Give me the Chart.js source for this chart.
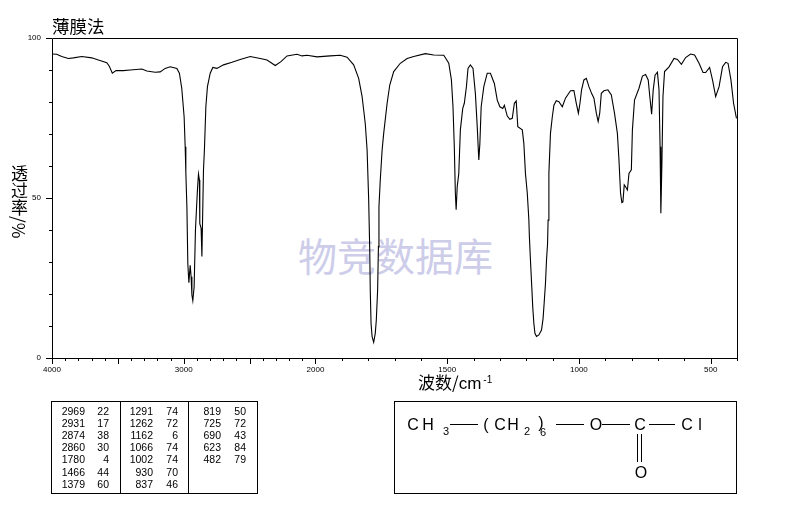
<!DOCTYPE html>
<html>
<head>
<meta charset="utf-8">
<script src="https://cdn.jsdelivr.net/npm/chart.js@4"></script>
<style>
    html, body { margin: 0; padding: 0; background: #fff; }
    body { position: relative; width: 794px; height: 510px; overflow: hidden; font-family: "Noto Sans CJK SC", sans-serif; color: #000; }
    canvas { position: absolute; left: 0; top: 0; }
    .label { position: absolute; white-space: nowrap; line-height: 1; }
    #watermark { left: 298px; top: 235px; font-size: 39px; color: #cdcdea; }
    #title { left: 52px; top: 17px; font-size: 17.5px; }
    #xTitle { left: 418px; top: 373px; font-size: 17px; }
    #xTitle sup { font-size: 10px; position: relative; top: -6px; line-height: 0; vertical-align: baseline; font-family: "Liberation Sans"; margin-left: 2px; }
    #xTitle span { font-family: "Liberation Sans"; }
    #yTitle { left: 11px; top: 165px; font-size: 17px; writing-mode: vertical-rl; }
    #peaks, #structure { position: absolute; left: 0; top: 0; }
</style>
</head>
<body>
<div class="label" id="watermark">物竞数据库</div>
<canvas id="irChart" width="794" height="510"></canvas>
<div class="label" id="title">薄膜法</div>
<div class="label" id="xTitle">波数/<span>cm<sup>-1</sup></span></div>
<div class="label" id="yTitle">透过率/%</div>
<svg id="peaks" width="794" height="510"></svg>
<svg id="structure" width="794" height="510">
    <g fill="none" stroke="#000" stroke-width="1">
        <rect x="394.5" y="401.5" width="342" height="92"/>
        <path d="M450 424.5H478M556 424.5H584M602 424.5H630M649 424.5H675M637.5 434V462M641.5 434V462"/>
    </g>
    <g font-family="Liberation Sans" font-size="16" text-anchor="middle">
        <text x="413" y="430">C</text><text x="428" y="430">H</text>
        <text x="446" y="435" font-size="11">3</text>
        <text x="486" y="430">(</text><text x="500" y="430">C</text><text x="513" y="430">H</text>
        <text x="527" y="435" font-size="11">2</text>
        <text x="541" y="428">)</text><text x="543" y="436" font-size="11">6</text>
        <text x="596" y="430">O</text><text x="640" y="430">C</text>
        <text x="687" y="430">C</text><text x="700" y="430">l</text>
        <text x="641" y="478">O</text>
    </g>
</svg>
<script>
// Wavenumbers (cm-1) and % transmittance
const wavenumbers = [
    4000, 3964, 3926, 3876, 3838, 3774, 3698, 3648, 3584, 3565, 3542, 3514, 3458, 3407, 3318, 3280,
    3217, 3179, 3141, 3103, 3052, 3033, 3015, 2997, 2989, 2984, 2976, 2969, 2961, 2951, 2944, 2938,
    2931, 2921, 2911, 2896, 2888, 2881, 2878, 2868, 2862, 2858, 2850, 2843, 2832, 2820, 2799, 2779,
    2748, 2698, 2634, 2571, 2495, 2419, 2368, 2305, 2262, 2216, 2140, 2102, 2064, 1994, 1944, 1906,
    1880, 1855, 1836, 1823, 1811, 1804, 1798, 1794, 1792, 1789, 1785, 1779, 1773, 1769, 1764, 1761,
    1759, 1754, 1747, 1741, 1728, 1718, 1703, 1678, 1652, 1627, 1583, 1551, 1513, 1494, 1484, 1478,
    1473, 1469, 1466, 1462, 1456, 1450, 1441, 1435, 1427, 1421, 1412, 1402, 1393, 1386, 1380, 1376,
    1371, 1361, 1348, 1336, 1321, 1310, 1300, 1289, 1283, 1272, 1262, 1253, 1245, 1238, 1232, 1215,
    1209, 1203, 1196, 1190, 1188, 1184, 1179, 1175, 1171, 1167, 1161, 1152, 1142, 1136, 1132, 1127,
    1123, 1119, 1117, 1114, 1108, 1101, 1095, 1086, 1076, 1063, 1051, 1032, 1019, 1010, 1002, 996,
    990, 981, 972, 962, 952, 943, 934, 927, 921, 915, 905, 890, 877, 865, 854, 848,
    842, 837, 833, 828, 823, 816, 810, 801, 797, 789, 772, 759, 747, 737, 731, 724,
    718, 711, 702, 696, 692, 689, 685, 681, 675, 658, 639, 626, 611, 595, 576, 561,
    544, 529, 519, 504, 493, 481, 468, 455, 443, 434, 423, 413, 402
];
const transmittance = [
    95.0, 94.9, 94.2, 93.6, 93.8, 94.2, 93.8, 93.1, 92.3, 91.2, 89.0, 89.8, 89.8, 90.0, 90.3, 89.7,
    89.3, 89.4, 90.5, 91.0, 90.5, 89.0, 84.3, 75.4, 66.0, 58.0, 47.3, 29.6, 23.5, 29.0, 25.4, 19.7,
    17.9, 22.3, 40.0, 52.5, 57.5, 55.6, 42.0, 40.5, 31.7, 41.0, 58.8, 65.0, 78.5, 84.8, 89.0, 90.8,
    90.5, 91.6, 92.4, 93.3, 94.2, 93.6, 93.1, 91.4, 92.6, 94.4, 94.9, 94.4, 94.6, 94.1, 94.4, 94.6,
    94.0, 91.6, 87.4, 81.7, 73.3, 65.0, 49.4, 33.8, 21.3, 10.8, 6.7, 4.9, 7.7, 11.9, 21.3, 34.8,
    47.3, 55.6, 65.0, 70.2, 79.6, 85.3, 89.5, 92.1, 93.6, 94.2, 95.1, 94.7, 94.6, 92.1, 86.9, 78.5,
    66.0, 51.5, 46.3, 53.5, 57.7, 71.3, 78.0, 79.6, 84.8, 90.5, 91.6, 90.5, 82.7, 72.3, 61.9, 67.0,
    78.5, 84.8, 89.0, 89.0, 85.8, 80.6, 78.5, 78.0, 79.0, 75.6, 74.6, 74.9, 79.6, 80.3, 72.3, 71.3,
    67.0, 57.7, 51.5, 43.1, 37.9, 30.6, 22.3, 15.5, 10.8, 7.7, 6.7, 7.2, 8.75, 12.4, 17.1, 23.3,
    30.6, 35.8, 43.1, 57.7, 70.2, 75.4, 79.0, 80.4, 80.1, 78.5, 81.2, 83.5, 83.6, 79.6, 76.5, 79.6,
    83.8, 86.9, 87.4, 84.8, 82.7, 81.2, 76.5, 73.9, 76.5, 82.7, 83.5, 83.8, 82.2, 76.5, 70.2, 61.9,
    51.5, 48.6, 48.8, 54.1, 53.5, 52.5, 57.7, 58.8, 71.3, 80.6, 84.3, 88.1, 88.6, 86.9, 81.7, 76.2,
    83.8, 88.4, 89.3, 83.8, 66.0, 45.2, 60.8, 81.7, 89.5, 91.0, 93.6, 93.3, 91.8, 93.9, 95.0, 94.7,
    92.1, 89.2, 89.2, 90.8, 86.9, 81.7, 84.8, 91.0, 92.4, 92.1, 86.9, 79.6, 74.9
];

// Tick values
const xTicks = [4000, 3900, 3800, 3700, 3600, 3500, 3400, 3300, 3200, 3100, 3000, 2900, 2800, 2700, 2600,
    2500, 2400, 2300, 2200, 2100, 2000, 1900, 1800, 1700, 1600, 1500, 1400, 1300, 1200, 1100, 1000,
    900, 800, 700, 600, 500, 400];
const xLabels = [4000, 3000, 2000, 1500, 1000, 500];
const xLongTicks = [4000, 3500, 3000, 2500, 2000, 1500, 1000, 500];
const yTicks = [0, 10, 20, 30, 40, 50, 60, 70, 80, 90, 100];
const yLabels = [0, 50, 100];

// Peak table, one list per column of the box
const peakWave1 = [2969, 2931, 2874, 2860, 1780, 1466, 1379];
const peakTrans1 = [22, 17, 38, 30, 4, 44, 60];
const peakWave2 = [1291, 1262, 1162, 1066, 1002, 930, 837];
const peakTrans2 = [74, 72, 6, 74, 74, 70, 46];
const peakWave3 = [819, 725, 690, 623, 482];
const peakTrans3 = [50, 72, 43, 84, 79];

// Spectrum axis doubles its scale below 2000 cm-1
function toAxis(w) {
    return w >= 2000 ? (4000 - w) / 2 : 1000 + (2000 - w);
}
function fromAxis(v) {
    return v <= 1000 ? 4000 - v * 2 : 2000 - (v - 1000);
}

const tickMarks = {
    id: 'tickMarks',
    afterDraw(chart) {
        const ctx = chart.ctx;
        const { x, y } = chart.scales;
        const a = chart.chartArea;
        ctx.save();
        ctx.strokeStyle = '#000';
        ctx.lineWidth = 1;
        ctx.beginPath();
        ctx.rect(Math.round(a.left) + 0.5, Math.round(a.top) + 0.5, Math.round(a.right - a.left), Math.round(a.bottom - a.top));
        x.ticks.forEach(t => {
            const px = Math.round(x.getPixelForValue(t.value)) + 0.5;
            const long = xLongTicks.includes(fromAxis(t.value));
            ctx.moveTo(px, a.bottom);
            ctx.lineTo(px, a.bottom + (long ? 6 : 3));
        });
        y.ticks.forEach(t => {
            const py = Math.round(y.getPixelForValue(t.value)) + 0.5;
            const long = yLabels.includes(t.value);
            ctx.moveTo(a.left, py);
            ctx.lineTo(a.left - (long ? 6 : 3), py);
        });
        ctx.stroke();
        ctx.restore();
    }
};

const tickFont = { family: 'Liberation Sans', size: 8 };

new Chart(document.getElementById('irChart').getContext('2d'), {
    type: 'line',
    data: {
        datasets: [{
            data: wavenumbers.map((w, i) => ({ x: toAxis(w), y: transmittance[i] })),
            borderColor: '#000',
            borderWidth: 1.1,
            pointRadius: 0,
            tension: 0,
            fill: false
        }]
    },
    options: {
        responsive: false,
        animation: false,
        layout: { autoPadding: false, padding: { left: 0, top: 38, right: 57, bottom: 0 } },
        plugins: { legend: { display: false }, title: { display: false }, tooltip: { enabled: false } },
        scales: {
            x: {
                type: 'linear',
                min: 0,
                max: 2600,
                afterBuildTicks: scale => { scale.ticks = xTicks.map(w => ({ value: toAxis(w) })); },
                afterFit: scale => { scale.height = 152; },
                grid: { display: false, drawTicks: false, tickLength: 0 },
                border: { display: false },
                ticks: {
                    autoSkip: false,
                    maxRotation: 0,
                    padding: 7,
                    color: '#000',
                    font: tickFont,
                    callback: v => {
                        const w = fromAxis(v);
                        return xLabels.includes(w) ? String(w) : '';
                    }
                }
            },
            y: {
                min: 0,
                max: 100,
                afterBuildTicks: scale => { scale.ticks = yTicks.map(v => ({ value: v })); },
                afterFit: scale => { scale.width = 52; },
                grid: { display: false, drawTicks: false, tickLength: 0 },
                border: { display: false },
                ticks: {
                    autoSkip: false,
                    padding: 11,
                    color: '#000',
                    font: tickFont,
                    callback: v => (yLabels.includes(v) ? String(v) : '')
                }
            }
        }
    },
    plugins: [tickMarks]
});

// Peak table box
function drawPeaks() {
    const svg = document.getElementById('peaks');
    const columns = [
        { wave: peakWave1, trans: peakTrans1, waveX: 85, transX: 109 },
        { wave: peakWave2, trans: peakTrans2, waveX: 153, transX: 178 },
        { wave: peakWave3, trans: peakTrans3, waveX: 221, transX: 246 }
    ];
    let html = '<g fill="none" stroke="#000"><rect x="51.5" y="401.5" width="206" height="92"/>' +
        '<path d="M120.5 401V494M188.5 401V494"/></g>' +
        '<g font-family="Liberation Sans" font-size="10.5" text-anchor="end">';
    columns.forEach(col => {
        col.wave.forEach((w, i) => {
            const rowY = 414.5 + i * 12.2;
            html += `<text x="${col.waveX}" y="${rowY}">${w}</text>`;
            html += `<text x="${col.transX}" y="${rowY}">${col.trans[i]}</text>`;
        });
    });
    svg.innerHTML = html + '</g>';
}
drawPeaks();
</script>
</body>
</html>
